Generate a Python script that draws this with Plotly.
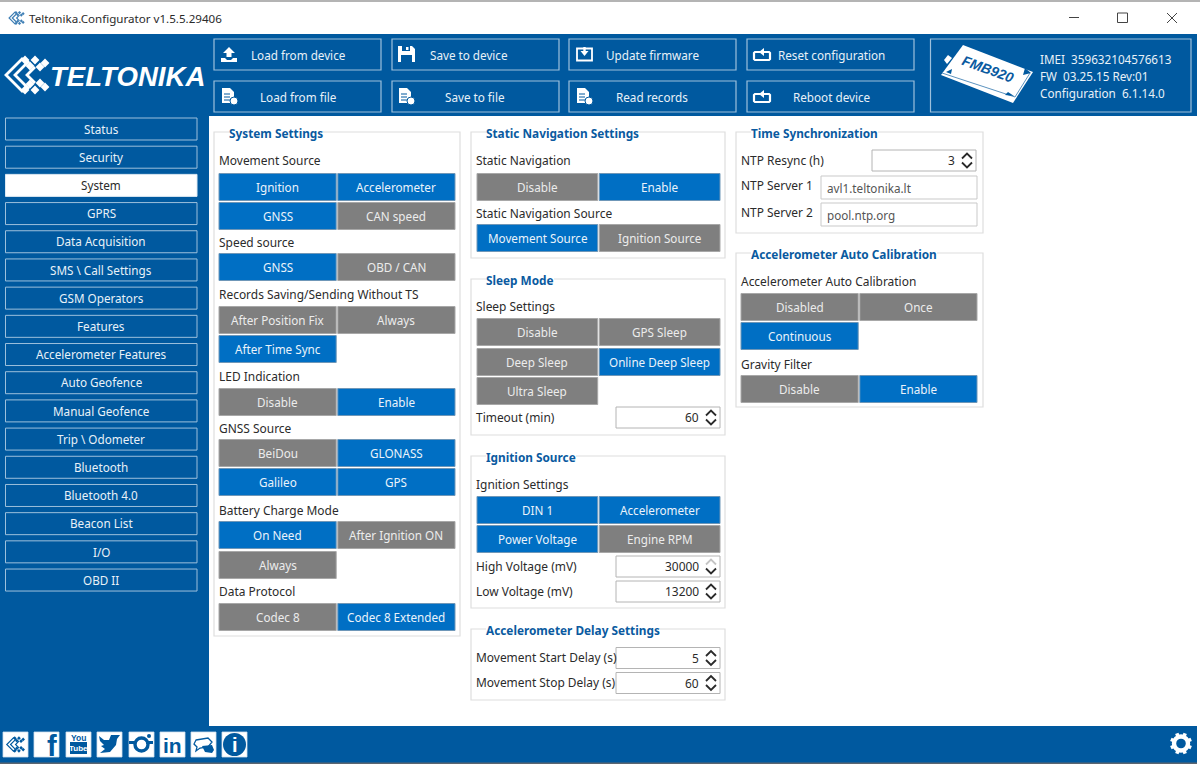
import math
import plotly.graph_objects as go

# texts and states
title_text = "Teltonika.Configurator v1.5.5.29406"
menu_items = ["Status", "Security", "System", "GPRS", "Data Acquisition", "SMS \\ Call Settings",
              "GSM Operators", "Features", "Accelerometer Features", "Auto Geofence", "Manual Geofence",
              "Trip \\ Odometer", "Bluetooth", "Bluetooth 4.0", "Beacon List", "I/O", "OBD II"]
menu_selected = "System"
toolbar_top = ["Load from device", "Save to device", "Update firmware", "Reset configuration"]
toolbar_bottom = ["Load from file", "Save to file", "Read records", "Reboot device"]
device_info = ["IMEI  359632104576613", "FW  03.25.15 Rev:01", "Configuration  6.1.14.0"]
device_name = "FMB920"

movement_source = ["Ignition", "Accelerometer", "GNSS", "CAN speed"]
movement_source_on = [1, 1, 1, 0]
speed_source = ["GNSS", "OBD / CAN"]
speed_source_on = [1, 0]
records_saving = ["After Position Fix", "Always", "After Time Sync"]
records_saving_on = [0, 0, 1]
led_indication = ["Disable", "Enable"]
led_indication_on = [0, 1]
gnss_source = ["BeiDou", "GLONASS", "Galileo", "GPS"]
gnss_source_on = [0, 1, 1, 1]
battery_mode = ["On Need", "After Ignition ON", "Always"]
battery_mode_on = [1, 0, 0]
data_protocol = ["Codec 8", "Codec 8 Extended"]
data_protocol_on = [0, 1]
static_nav = ["Disable", "Enable"]
static_nav_on = [0, 1]
static_source = ["Movement Source", "Ignition Source"]
static_source_on = [1, 0]
sleep_settings = ["Disable", "GPS Sleep", "Deep Sleep", "Online Deep Sleep", "Ultra Sleep"]
sleep_settings_on = [0, 0, 0, 1, 0]
ignition_settings = ["DIN 1", "Accelerometer", "Power Voltage", "Engine RPM"]
ignition_settings_on = [1, 1, 1, 0]
auto_calibration = ["Disabled", "Once", "Continuous"]
auto_calibration_on = [0, 0, 1]
gravity_filter = ["Disable", "Enable"]
gravity_filter_on = [0, 1]

# colours
BLUE = "#00599f"
ACTIVE = "#006fc4"
GREY = "#7f7f7f"
EDGE = "#9cc0dc"
TEXT = "#2b2b2b"
HEAD = "#0a5aa0"
FONT = "Noto Sans"

shapes = []
notes = []


def rect(x0, y0, x1, y1, fill=None, line=None, w=1):
    shapes.append(dict(type="rect", x0=x0, y0=y0, x1=x1, y1=y1, fillcolor=fill or "rgba(0,0,0,0)",
                       line=dict(color=line or "rgba(0,0,0,0)", width=w if line else 0)))


def path(d, fill=None, line=None, w=1):
    shapes.append(dict(type="path", path=d, fillcolor=fill or "rgba(0,0,0,0)",
                       line=dict(color=line or "rgba(0,0,0,0)", width=w if line else 0)))


def poly(pts, fill=None, line=None, w=1, close=True):
    d = "M" + " L".join(f"{x},{y}" for x, y in pts) + (" Z" if close else "")
    path(d, fill, line, w)


def seg(x0, y0, x1, y1, color, w=1):
    shapes.append(dict(type="line", x0=x0, y0=y0, x1=x1, y1=y1, line=dict(color=color, width=w)))


def text(x, y, s, size=11.95, color=TEXT, anchor="left", bold=False, family=FONT, **kw):
    notes.append(dict(x=x, y=y, text=f"<b>{s}</b>" if bold else s, showarrow=False, xanchor=anchor,
                      yanchor="middle", borderpad=0, borderwidth=0,
                      font=dict(size=size, color=color, family=family), **kw))


def diamond(x, y, r, fill="white"):
    poly([(x - r, y), (x, y - r), (x + r, y), (x, y + r)], fill)


def logo(cx, cy, k, color):
    # three chevrons plus small diamonds, scaled by k around the logo centre
    for dx, reach in [(-22, 17), (-13, 14), (-1, 8)]:
        poly([(cx + (dx + reach) * k, cy - reach * k), (cx + dx * k, cy), (cx + (dx + reach) * k, cy + reach * k)],
             None, color, max(1.2, 2.8 * k), close=False)
    for dx, dy in [(-3, -15), (7, -15), (17, -12), (2, -9), (12, -8), (-3, 15), (7, 15), (17, 12), (2, 9), (12, 8)]:
        diamond(cx + dx * k, cy + dy * k, 4.4 * k, color)


def buttons(labels, states, x_left, x_right, rows):
    mid = (x_left + x_right) / 2
    cols = [(x_left, mid - 0.8), (mid + 0.8, x_right)]
    for i, label in enumerate(labels):
        x0, x1 = cols[i % 2]
        yc = rows[i // 2]
        on = states[i]
        rect(x0, yc - 13.5, x1, yc + 13.5, ACTIVE if on else GREY, "#6f97b8" if on else "#a8a8a8", 1)
        text((x0 + x1) / 2, yc, label, size=11.7, color="#eaf3fb" if on else "#ececec", anchor="center")


def group(x0, y0, x1, y1, name, title_y):
    rect(x0, y0, x1, y1, None, "#dedede", 1.2)
    text(x0 + 15, title_y, name, size=11.8, color=HEAD, bold=True, bgcolor="white")


def spin(x0, yc, x1, value, dim_up=False):
    rect(x0, yc - 10.5, x1, yc + 10.5, "white", "#b4b4b4", 1)
    text(x1 - 21, yc, value, anchor="right")
    ax = x1 - 9
    poly([(ax - 5, yc - 2), (ax, yc - 7), (ax + 5, yc - 2)], None, "#c4c4c4" if dim_up else "#2a2a2a", 1.8, close=False)
    poly([(ax - 5, yc + 2), (ax, yc + 7), (ax + 5, yc + 2)], None, "#2a2a2a", 1.8, close=False)


def field(x0, yc, x1, value):
    rect(x0, yc - 11.5, x1, yc + 11.5, "white", "#c9c9c9", 1)
    text(x0 + 6, yc, value, color="#555555", size=11.7)


def doc_icon(x, y):
    poly([(x, y), (x + 8, y), (x + 12, y + 4), (x + 12, y + 15), (x, y + 15)], "white")
    for dy in (6, 9, 12):
        seg(x + 2, y + dy, x + 8, y + dy, BLUE, 1)
    shapes.append(dict(type="circle", x0=x + 8, y0=y + 9, x1=x + 16, y1=y + 17, fillcolor="white",
                       line=dict(color=BLUE, width=1)))


def loop_icon(x, y):
    path(f"M{x + 6},{y - 3} L{x + 1},{y - 3} L{x},{y - 2} L{x},{y + 4} L{x + 1},{y + 5} L{x + 15},{y + 5} "
         f"L{x + 16},{y + 4} L{x + 16},{y - 2} L{x + 15},{y - 3} L{x + 8},{y - 3}", None, "white", 2.2)
    poly([(x + 10, y - 7), (x + 5, y - 3), (x + 10, y + 1)], "white")


# window
rect(0, 0, 1200, 764, "white")
rect(0, 0, 1200, 2, "#b4b4b4")
rect(0, 34, 1197, 764, BLUE)
rect(209, 116, 1197, 726, "white")
rect(0, 762.5, 1197, 764, "#5c6670")

# title bar
logo(17, 18, 0.36, "#3f7fb5")
text(29, 18, title_text, size=11.6, color="#2a2a2a")
seg(1069, 17.5, 1079, 17.5, "#444444")
rect(1117.5, 13, 1127.5, 22.5, None, "#444444", 1)
seg(1167, 13, 1177, 23, "#444444")
seg(1177, 13, 1167, 23, "#444444")

# big logo
logo(28, 75, 1, "white")
text(50, 76, "TELTONIKA", size=27.6, color="white", family="Liberation Sans")
notes[-1]["text"] = "<b><i>TELTONIKA</i></b>"

# toolbar
toolbar_x = [(214, 381), (392, 559), (569, 736), (747, 914)]
toolbar_cx_top = [298, 469, 652, 831]
toolbar_cx_bottom = [298, 475, 652, 831]
for i, (x0, x1) in enumerate(toolbar_x):
    rect(x0, 39, x1, 70, BLUE, EDGE, 1.2)
    rect(x0, 81, x1, 112, BLUE, EDGE, 1.2)
    text(toolbar_cx_top[i], 55, toolbar_top[i], size=11.7, color="#e8f1f8", anchor="center")
    text(toolbar_cx_bottom[i], 97, toolbar_bottom[i], size=11.7, color="#e8f1f8", anchor="center")

# toolbar icons
poly([(229, 47), (235, 53), (231.5, 53), (231.5, 57), (226.5, 57), (226.5, 53), (223, 53)], "white")
poly([(221, 58), (225, 58), (227, 60), (231, 60), (233, 58), (237, 58), (237, 62), (221, 62)], "white")
poly([(398, 46), (412, 46), (415, 49), (415, 62), (398, 62)], "white")
rect(402, 46, 410, 51, BLUE)
rect(406, 47, 408.5, 50, "white")
rect(401, 55, 412, 62, BLUE)
rect(577, 48.5, 592, 60.5, None, "white", 1.8)
poly([(584.5, 47), (584.5, 52)], None, "white", 2.4, close=False)
poly([(580.5, 51), (584.5, 56), (588.5, 51)], "white")
loop_icon(754, 55)
loop_icon(754, 97)
doc_icon(222, 88)
doc_icon(399, 88)
doc_icon(577, 88)

# device box
rect(930.5, 39, 1191, 112, BLUE, EDGE, 1.2)
poly([(963, 45), (1033, 72), (1013, 103), (941, 75)], "white")
poly([(942, 73), (1015, 97), (1030, 73)], None, "#5c93bf", 1, close=False)
poly([(1025, 68), (1031, 73), (1023, 75)], BLUE)
poly([(946, 72), (952, 69), (951, 74)], BLUE)
poly([(1008, 92), (1014, 96), (1005, 95)], BLUE)
poly([(948, 55), (952, 58), (947, 64), (944, 60)], "white")
text(988, 69, device_name, size=14, color=HEAD, anchor="center", family="Liberation Sans", textangle=20)
notes[-1]["text"] = f"<b><i>{device_name}</i></b>"
for i, line_text in enumerate(device_info):
    text(1040, 59 + i * 17, line_text, size=11.7, color="#e8f1f8")

# side menu
for i, item in enumerate(menu_items):
    yc = 129 + i * 28.19
    selected = item == menu_selected
    rect(5.5, yc - 11, 197, yc + 11, "white" if selected else BLUE, "#dce9f3" if selected else EDGE, 1)
    text(101, yc - 0.3, item, size=11.7, color=TEXT if selected else "#e8f1f8", anchor="center")

# System Settings
group(214, 132, 460, 636, "System Settings", 133)
for y, s in [(160, "Movement Source"), (242, "Speed source"), (294, "Records Saving/Sending Without TS"),
             (376, "LED Indication"), (428, "GNSS Source"), (510, "Battery Charge Mode"), (591, "Data Protocol")]:
    text(219, y, s)
buttons(movement_source, movement_source_on, 219, 455, [187, 216])
buttons(speed_source, speed_source_on, 219, 455, [267])
buttons(records_saving, records_saving_on, 219, 455, [320, 349])
buttons(led_indication, led_indication_on, 219, 455, [402])
buttons(gnss_source, gnss_source_on, 219, 455, [453, 482])
buttons(battery_mode, battery_mode_on, 219, 455, [535, 565])
buttons(data_protocol, data_protocol_on, 219, 455, [617])

# Static Navigation Settings
group(471, 132, 725, 258, "Static Navigation Settings", 133)
text(476, 160, "Static Navigation")
text(476, 213, "Static Navigation Source")
buttons(static_nav, static_nav_on, 477, 720, [187])
buttons(static_source, static_source_on, 477, 720, [238])

# Sleep Mode
group(471, 279, 725, 435, "Sleep Mode", 279.5)
text(476, 306, "Sleep Settings")
buttons(sleep_settings, sleep_settings_on, 477, 720, [332, 362, 391])
text(476, 417, "Timeout (min)")
spin(616, 417.5, 720, "60")

# Ignition Source
group(471, 456, 725, 608, "Ignition Source", 456.5)
text(476, 484, "Ignition Settings")
buttons(ignition_settings, ignition_settings_on, 477, 720, [510, 539])
text(476, 566, "High Voltage (mV)")
text(476, 591, "Low Voltage (mV)")
spin(616, 566.5, 720, "30000", dim_up=True)
spin(616, 591.5, 720, "13200")

# Accelerometer Delay Settings
group(471, 629, 725, 700, "Accelerometer Delay Settings", 630)
text(476, 657, "Movement Start Delay (s)")
text(476, 682, "Movement Stop Delay (s)")
spin(616, 658, 720, "5")
spin(616, 683, 720, "60")

# Time Synchronization
group(736, 132, 983, 233, "Time Synchronization", 133)
text(741, 160, "NTP Resync (h)")
text(741, 185, "NTP Server 1")
text(741, 212, "NTP Server 2")
spin(872, 160.5, 976, "3")
field(821, 187.5, 977, "avl1.teltonika.lt")
field(821, 214.5, 977, "pool.ntp.org")

# Accelerometer Auto Calibration
group(736, 253, 983, 407, "Accelerometer Auto Calibration", 254)
text(741, 281, "Accelerometer Auto Calibration")
buttons(auto_calibration, auto_calibration_on, 741, 977, [307, 336])
text(741, 364, "Gravity Filter")
buttons(gravity_filter, gravity_filter_on, 741, 977, [389])

# footer icons
for x in [3, 34, 66, 97, 129, 160, 191, 222]:
    rect(x, 732, x + 25, 757, "white", "#cfe0ee", 0.8)
logo(16, 744.5, 0.42, BLUE)
text(52, 746, "f", size=29, color=BLUE, anchor="center", bold=True, family="Liberation Sans")
text(78.5, 737.5, "You", size=8.5, color=BLUE, anchor="center", bold=True, family="Liberation Sans")
rect(70, 742, 87, 754, BLUE)
text(78.5, 748, "Tube", size=8, color="white", anchor="center", bold=True, family="Liberation Sans")
poly([(99, 736), (104, 740), (109, 740), (111, 735), (116, 735), (120, 735), (117, 739), (116, 745),
      (110, 752), (100, 753), (105, 749), (101, 746), (104, 745), (100, 741)], BLUE)
shapes.append(dict(type="circle", x0=135, y0=738, x1=148, y1=751, line=dict(color=BLUE, width=3.4)))
rect(129, 741, 136, 744, BLUE)
rect(146, 741, 153, 744, BLUE)
shapes.append(dict(type="circle", x0=147, y0=734, x1=151, y1=738, fillcolor=BLUE, line=dict(width=0)))
text(172.5, 745, "in", size=21, color=BLUE, anchor="center", bold=True, family="Liberation Sans")
poly([(196, 740), (208, 738), (212, 742), (208, 747), (200, 748), (196, 751), (197, 747), (194, 744)], None, BLUE, 1.3)
poly([(202, 746), (212, 745), (214, 750), (212, 753), (205, 752)], BLUE)
shapes.append(dict(type="circle", x0=223, y0=733, x1=246, y1=756, fillcolor=BLUE, line=dict(width=0)))
text(234.5, 745, "i", size=20, color="white", anchor="center", bold=True, family="Liberation Sans")

# settings gear
gx, gy = 1181, 743.5
for k in range(8):
    a = k * math.pi / 4 + math.pi / 8
    seg(gx + 7 * math.cos(a), gy + 7 * math.sin(a), gx + 11 * math.cos(a), gy + 11 * math.sin(a), "white", 3.6)
shapes.append(dict(type="circle", x0=gx - 7, y0=gy - 7, x1=gx + 7, y1=gy + 7, line=dict(color="white", width=4.4)))

fig = go.Figure()
fig.update_layout(width=1200, height=764, margin=dict(l=0, r=0, t=0, b=0), showlegend=False,
                  paper_bgcolor="white", plot_bgcolor="white", hovermode=False,
                  shapes=shapes, annotations=notes)
fig.update_xaxes(range=[0, 1200], visible=False, fixedrange=True)
fig.update_yaxes(range=[764, 0], visible=False, fixedrange=True)
fig.write_html("out.html", config=dict(displayModeBar=False), post_script="document.body.style.margin='0';")
